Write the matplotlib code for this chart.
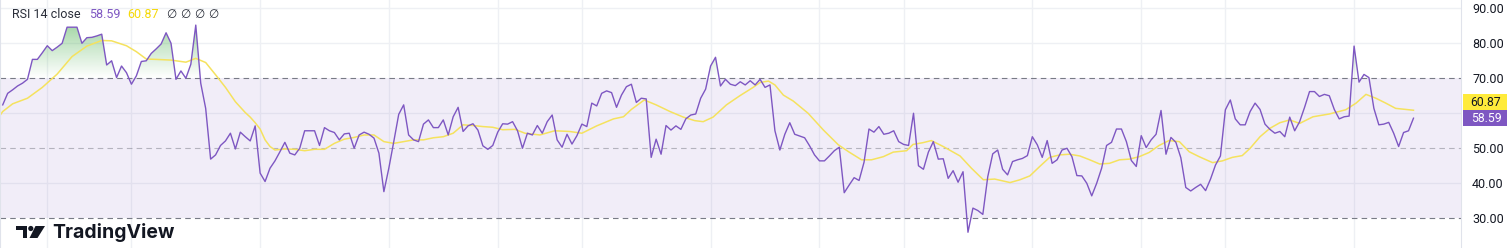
import matplotlib

matplotlib.use("Agg")
import matplotlib.pyplot as plt  # noqa: E402
import numpy as np  # noqa: E402
from matplotlib.colors import to_rgb  # noqa: E402
from matplotlib.patches import Circle, Polygon, Rectangle  # noqa: E402
from matplotlib.path import Path  # noqa: E402

plt.rcParams["font.family"] = ["Roboto", "DejaVu Sans"]
plt.rcParams["lines.scale_dashes"] = False

# RSI(14) per bar
RSI = [
    62.4, 65.7, 66.7, 67.8, 68.6, 69.7, 75.4, 75.4, 77.3, 79.3,
    77.9, 78.9, 80.0, 84.6, 84.6, 84.6, 80.0, 81.6, 81.7, 82.1,
    82.6, 73.8, 75.0, 70.2, 73.5, 71.6, 68.3, 70.7, 74.8, 75.0,
    77.1, 78.4, 79.8, 83.0, 80.0, 69.7, 72.1, 70.0, 74.0, 85.2,
    68.6, 61.4, 46.9, 48.1, 50.8, 52.1, 54.3, 49.8, 54.6, 53.3,
    52.1, 56.4, 42.9, 40.5, 44.3, 46.4, 49.0, 51.7, 48.6, 48.1,
    50.0, 55.0, 55.0, 55.0, 50.8, 55.9, 55.0, 54.5, 52.4, 54.1,
    54.3, 50.0, 53.8, 54.6, 54.0, 52.9, 48.6, 37.6, 44.3, 51.9,
    59.7, 62.4, 53.8, 52.4, 51.9, 56.9, 58.1, 55.9, 55.9, 58.1,
    53.8, 59.0, 61.7, 54.8, 56.4, 57.0, 55.2, 50.7, 49.7, 50.8,
    54.6, 57.0, 56.9, 57.6, 55.0, 50.0, 54.3, 53.8, 56.5, 54.3,
    57.6, 59.5, 52.4, 50.3, 54.0, 51.2, 53.6, 56.9, 56.2, 62.9,
    62.1, 65.7, 66.4, 65.9, 61.7, 65.2, 67.6, 68.3, 63.1, 64.3,
    64.1, 47.4, 52.6, 48.3, 56.5, 55.2, 56.4, 55.4, 58.4, 59.5,
    59.8, 64.3, 66.9, 73.5, 76.0, 67.8, 69.7, 68.3, 67.9, 69.0,
    68.1, 69.3, 68.1, 69.7, 67.4, 68.1, 55.0, 49.5, 54.0, 57.3,
    54.0, 53.5, 53.0, 50.7, 48.1, 46.4, 46.4, 47.8, 49.3, 50.3,
    37.3, 39.5, 41.6, 40.8, 46.0, 55.5, 54.6, 56.2, 54.0, 54.3,
    55.0, 51.9, 51.1, 50.8, 60.0, 45.0, 44.0, 48.9, 51.9, 46.9,
    47.0, 41.4, 43.6, 40.3, 43.3, 26.0, 32.9, 32.2, 31.1, 41.9,
    48.4, 49.5, 44.0, 42.4, 46.2, 46.7, 47.1, 47.9, 53.3, 51.0,
    47.4, 52.2, 45.7, 46.7, 49.5, 50.0, 47.6, 42.2, 42.1, 40.0,
    36.4, 40.0, 44.3, 50.8, 51.7, 55.5, 55.5, 51.9, 46.5, 44.8,
    53.6, 50.2, 52.4, 54.0, 60.8, 48.3, 53.1, 51.7, 47.3, 38.8,
    37.8, 38.8, 39.7, 37.9, 41.2, 45.2, 47.8, 61.0, 63.8, 58.4,
    56.7, 56.7, 60.5, 62.9, 61.1, 56.9, 55.4, 54.3, 54.8, 53.3,
    58.9, 55.0, 57.6, 61.7, 66.2, 66.2, 64.8, 65.4, 65.0, 61.1,
    58.4, 59.0, 59.2, 79.2, 68.9, 71.1, 70.2, 61.4, 56.7, 56.9,
    57.4, 54.3, 50.5, 54.5, 55.0, 58.59,
]

# RSI-based moving average, sampled along the yellow line (bar, value)
MA_BAR = [
    -0.5, 0, 2, 5, 8, 11, 14, 17, 20, 22, 25, 27, 29, 31, 34, 37, 39, 41,
    43, 45, 47, 49, 50, 51, 52, 53, 54, 55, 57, 59, 61, 63, 65, 67, 69, 71,
    73, 75, 77, 79, 81, 83, 85, 87, 89, 91, 93, 95, 97, 99, 101, 103.5,
    105.5, 108.5, 111.5, 114.5, 117, 120, 123.4, 125.4, 127, 129.6, 132,
    134.8, 137.5, 139.8, 141.5, 143.5, 146.2, 148.9, 151.6, 153, 154.7, 156,
    157.7, 159.7, 162.7, 165.8, 168.8, 171, 173.5, 175.5, 177.9, 179.9,
    182.6, 183.9, 185.9, 187.6, 190, 193.4, 195.7, 198.1, 200.4, 203.5,
    205.5, 207.5, 209.5, 211.5, 213.5, 215.5, 217.6, 219.6, 221.6, 223.6,
    225.6, 227.6, 229.6, 231.6, 233.6, 235.6, 237.7, 239.7, 241.7, 244.4,
    246.4, 248.4, 250.4, 252, 254, 256, 258, 260, 262, 264.7, 268, 271.3,
    273.4, 275.4, 277.4, 279.4, 281.4, 285,
]
MA = [
    59.5, 60.5, 62.7, 64.3, 67.4, 71.2, 76.2, 79.2, 80.8, 80.7, 79.3, 77.6,
    75.5, 75.4, 75.2, 74.6, 75.7, 74.5, 71.0, 67.4, 63.3, 60.2, 58.9, 57.3,
    55.5, 52.4, 50.5, 49.5, 49.8, 49.7, 49.3, 49.7, 49.7, 51.4, 52.6, 53.1,
    53.8, 53.8, 51.9, 51.4, 51.9, 52.4, 52.4, 53.0, 53.3, 54.3, 56.7, 56.5,
    56.2, 56.0, 55.3, 55.4, 54.3, 53.8, 55.0, 54.8, 54.3, 56.4, 58.4, 59.0,
    61.1, 63.8, 62.4, 60.5, 58.9, 57.9, 57.6, 58.9, 62.4, 65.0, 67.4, 68.8,
    69.2, 68.1, 65.2, 63.5, 60.0, 55.2, 51.0, 48.9, 46.7, 46.7, 47.6, 48.9,
    49.3, 51.1, 51.6, 52.2, 50.5, 47.8, 44.3, 41.0, 41.2, 40.2, 41.0, 42.1,
    44.8, 47.4, 48.1, 48.3, 47.8, 46.7, 45.5, 45.7, 46.7, 46.9, 47.6, 48.8,
    50.8, 52.2, 51.9, 49.0, 47.6, 45.9, 46.4, 47.4, 47.9, 50.0, 53.3, 55.7,
    57.3, 58.1, 57.1, 59.0, 59.8, 61.0, 62.9, 65.4, 64.3, 62.9, 61.4, 60.87,
]

GRID_BARS = [9, 26, 52, 78, 100, 117, 143, 165, 182, 208, 230, 247, 273]
Y_TICKS = [90, 80, 70, 60, 50, 40, 30]
UPPER, MID, LOWER = 70, 50, 30
LAST_RSI, LAST_MA = 58.59, 60.87

PURPLE = "#7E57C2"
YELLOW = "#FFEB3B"
MA_LINE = "#f5e25e"
GREY = "#787B86"
GRID = "#eef0f4"
TEXT = "#131722"

W, H = 1511, 248
fig = plt.figure(figsize=(W / 100, H / 100), dpi=100)
ax = fig.add_axes([0, 0, 1461 / W, 1])
xlim = (-0.55, 294.6)
ylim = (21.5, 92.37)

bars = np.arange(len(RSI))
rsi = np.array(RSI)

for b in GRID_BARS:
    ax.axvline(b, color=GRID, lw=1, zorder=0)
for v in Y_TICKS:
    if v not in (UPPER, MID, LOWER):
        ax.axhline(v, color=GRID, lw=1, zorder=0)

ax.axhspan(LOWER, UPPER, color=PURPLE, alpha=0.1, lw=0, zorder=0.5)
ax.axhline(UPPER, color=GREY, lw=0.8, ls=(0, (4, 3)), zorder=1)
ax.axhline(MID, color=GREY, lw=0.8, ls=(0, (4, 3)), alpha=0.5, zorder=1)
ax.axhline(LOWER, color=GREY, lw=0.8, ls=(0, (4, 3)), zorder=1)

# overbought gradient fill (green at 100 fading out at 70)
fb = ax.fill_between(bars, rsi, UPPER, where=rsi > UPPER, interpolate=True,
                     facecolor="none", edgecolor="none")
clip = Path.make_compound_path(*fb.get_paths())
grad = np.zeros((256, 1, 4))
grad[..., :3] = to_rgb("#4CAF50")
grad[:, 0, 3] = np.linspace(0, 1, 256)
im = ax.imshow(grad, extent=[xlim[0], xlim[1], UPPER, 100], origin="lower",
               aspect="auto", zorder=1.5, interpolation="bilinear")
im.set_clip_path(clip, transform=ax.transData)

ax.plot(bars, rsi, color=PURPLE, lw=1.0, zorder=3)
ax.plot(MA_BAR, MA, color=MA_LINE, lw=1.1, zorder=2.5)

ax.set_xlim(*xlim)
ax.set_ylim(*ylim)
ax.set_xticks([])
ax.yaxis.tick_right()
ax.set_yticks(Y_TICKS)
# the 60 label sits under the last-value boxes, so it is left out
ax.set_yticklabels(["" if v == 60 else f"{v:.2f}" for v in Y_TICKS])
ax.tick_params(axis="y", length=0, pad=8, labelsize=9, labelcolor=TEXT)
for side in ("top", "bottom"):
    ax.spines[side].set_visible(False)
for side in ("left", "right"):
    ax.spines[side].set_color("#e0e3eb")

# overlay in pixel coordinates for labels and logo
ov = fig.add_axes([0, 0, 1, 1], facecolor="none")
ov.set_xlim(0, W)
ov.set_ylim(H, 0)
ov.axis("off")


def to_px(v):
    return H - ax.transData.transform((0, v))[1]


y_rsi = to_px(LAST_RSI)
y_ma = min(to_px(LAST_MA), y_rsi - 16)
for yc, val, fc, tc in ((y_ma, LAST_MA, YELLOW, TEXT), (y_rsi, LAST_RSI, PURPLE, "white")):
    ov.add_patch(Rectangle((1463, yc - 8), 44, 16, facecolor=fc, edgecolor="none"))
    ov.text(1486, yc, f"{val:.2f}", color=tc, fontsize=8.8, ha="center", va="center")

ov.text(12.5, 15, "RSI 14 close", color="#2a2e39", fontsize=9, va="center")
ov.text(89, 15, f"{LAST_RSI:.2f}", color=PURPLE, fontsize=9, va="center")
ov.text(127, 15, f"{LAST_MA:.2f}", color="#F5D90A", fontsize=9, va="center")
for i in range(4):
    ov.text(166 + i * 14, 15, "∅", color="#2a2e39", fontsize=8.5, va="center",
            family=["DejaVu Sans"])

# TradingView logo
ov.add_patch(Rectangle((16, 226), 10.7, 4.3, color=TEXT, lw=0))
ov.add_patch(Rectangle((22.7, 226), 4, 12, color=TEXT, lw=0))
ov.add_patch(Circle((30.8, 228.5), 2.6, color=TEXT, lw=0))
ov.add_patch(Polygon([(35.5, 226), (45, 226), (37.5, 238), (29.5, 238)], color=TEXT, lw=0))
ov.text(52, 238.5, "TradingView", color=TEXT, fontsize=14, fontweight="bold",
        va="baseline", family=["Inter", "DejaVu Sans"])

fig.savefig("out.png", dpi=100)
